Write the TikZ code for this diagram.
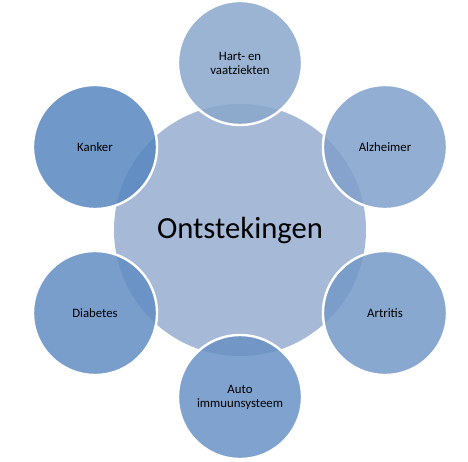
\documentclass[tikz,border=0pt]{standalone}
\usepackage{fontspec}
\setmainfont{Carlito}
\usepackage{xcolor}
\definecolor{midblue}{RGB}{166,185,215}
\definecolor{hartblue}{RGB}{137,167,203}
\definecolor{alzblue}{RGB}{128,160,203}
\definecolor{artblue}{RGB}{116,153,200}
\definecolor{autoblue}{RGB}{106,146,197}
\definecolor{diabblue}{RGB}{99,141,195}
\definecolor{kankblue}{RGB}{87,135,193}

\begin{document}
\begin{tikzpicture}[x=0.75pt, y=-0.75pt,
  every node/.style={align=center},
  middle/.style={circle, fill=midblue, minimum size=189pt, inner sep=0pt,
    font=\fontsize{23}{27}\selectfont},
  ring/.style={circle, draw=white, line width=1.8pt, fill opacity=0.85,
    text opacity=1, minimum size=93pt, inner sep=0pt,
    font=\fontsize{9.6}{10.5}\selectfont}]
\useasboundingbox (0,0) rectangle (468,461);
\node (Ont) [middle] at (240,230) {Ontstekingen};
\node (Hart) [ring, fill=hartblue] at (240,63) {Hart- en\\vaatziekten};
\node (Alz) [ring, fill=alzblue] at (385,147) {Alzheimer};
\node (Art) [ring, fill=artblue] at (385,313) {Artritis};
\node (Auto) [ring, fill=autoblue] at (240,397) {Auto\\immuunsysteem};
\node (Diab) [ring, fill=diabblue] at (95,313) {Diabetes};
\node (Kank) [ring, fill=kankblue] at (95,147) {Kanker};
\end{tikzpicture}
\end{document}
